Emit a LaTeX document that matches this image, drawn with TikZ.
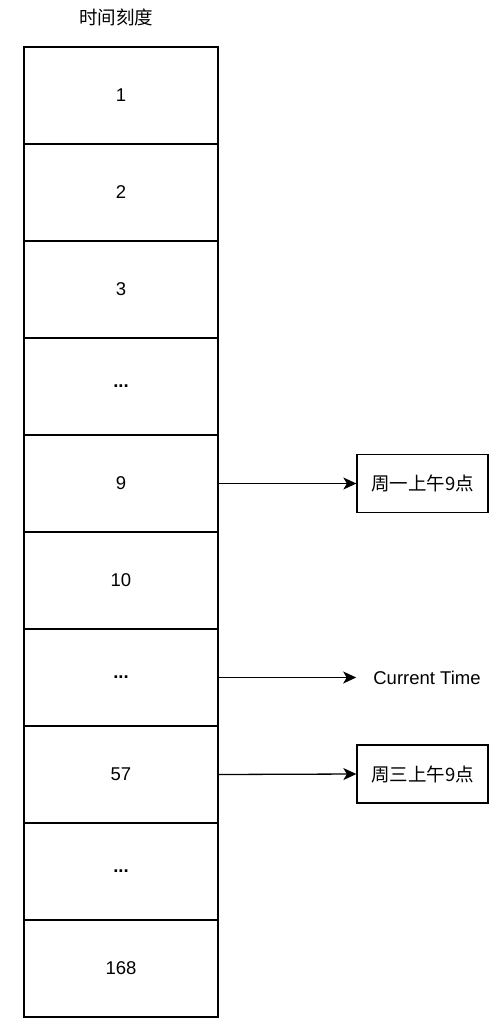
\documentclass[tikz,border=0pt]{standalone}
\usepackage{fontspec}
\setmainfont{Liberation Sans}
\newfontfamily\cjk{Noto Sans CJK SC}
\usetikzlibrary{arrows.meta, positioning}
\newcommand{\middots}{\raisebox{0.03em}{\textbf{...}}}

\begin{document}
\begin{tikzpicture}[x=1pt, y=-1pt,
    cell/.style={draw, line width=1.3pt, minimum width=194pt, minimum height=97pt, inner sep=0pt},
    tag/.style={draw, line width=1.3pt, minimum width=131pt, minimum height=58pt, inner sep=0pt},
    arr/.style={line width=1.3pt, -{Stealth[length=13pt, width=12pt, inset=3.5pt]}},
    font=\fontsize{18.5}{22}\selectfont]
    \useasboundingbox (0,0) rectangle (502,1024);
    \node (title) at (116,17) {\cjk 时间刻度};
    \foreach \lbl [count=\i] in {1, 2, 3, \middots, 9, 10, \middots, 57, \middots, 168}
        \node [cell] (c\i) at (121, {95.5+97*(\i-1)}) {\lbl};
    \node [tag] (mon) at (422.5,483.5) {\cjk 周一上午9点};
    \node [inner xsep=17pt] (now) at (427,677.5) {Current Time};
    \node [tag] (wed) at (422.5,774) {\cjk 周三上午9点};
    \draw [arr] (c5.east) -- (mon.west);
    \draw [arr] (c7.east) -- (now.west);
    \draw [arr] (c8.east) -- (wed.west);
\end{tikzpicture}
\end{document}
